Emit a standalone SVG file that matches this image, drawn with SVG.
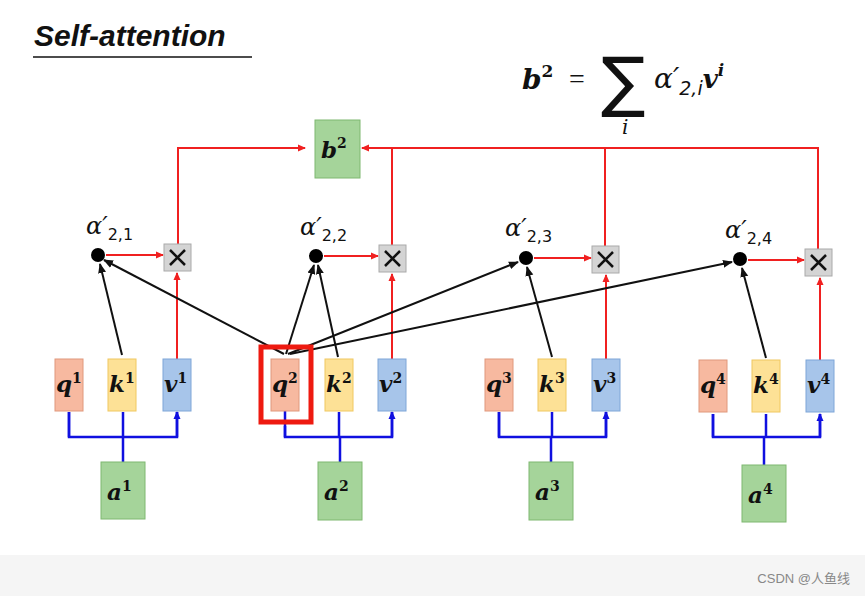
<svg xmlns="http://www.w3.org/2000/svg" width="865" height="596" viewBox="0 0 865 596">
<style>
.m{font-family:"DejaVu Serif","Liberation Serif",serif;font-weight:bold;font-style:italic;font-size:23px;fill:#111}
.s{font-family:"DejaVu Serif","Liberation Serif",serif;font-weight:bold;font-style:normal;font-size:14px;fill:#111}
.al{font-family:"DejaVu Serif","Liberation Serif",serif;font-style:italic;font-size:24px;fill:#111}
.sub{font-family:"DejaVu Sans","Liberation Sans",sans-serif;font-style:normal;font-size:16px;fill:#111}
.q{fill:#f7b9a0;stroke:#e0987c}
.k{fill:#fde196;stroke:#f0c860}
.v{fill:#a7c5ea;stroke:#7ea6d8}
.g{fill:#a5d49a;stroke:#7fb871}
.x{fill:#d4d4d4;stroke:#aaa}
.r{stroke:#f02020;stroke-width:2;fill:none}
.b{stroke:#1010e0;stroke-width:2.5;fill:none}
.k2{stroke:#111;stroke-width:2;fill:none}
</style>
<defs>
<marker id="ar" markerWidth="8" markerHeight="8" refX="7" refY="4" orient="auto" markerUnits="userSpaceOnUse"><path d="M0,0.5L8,4L0,7.5z" fill="#f02020"/></marker>
<marker id="ab" markerWidth="8" markerHeight="8" refX="7" refY="4" orient="auto" markerUnits="userSpaceOnUse"><path d="M0,0.5L8,4L0,7.5z" fill="#1010e0"/></marker>
<marker id="ak" markerWidth="10" markerHeight="10" refX="9" refY="5" orient="auto" markerUnits="userSpaceOnUse"><path d="M0,1L10,5L0,9z" fill="#111"/></marker>
</defs>
<rect width="865" height="596" fill="#fff"/>
<rect y="555" width="865" height="41" fill="#f5f5f5"/>
<text x="34" y="46" font-family="Liberation Sans,sans-serif" font-weight="bold" font-style="italic" font-size="30" fill="#111">Self-attention</text>
<line x1="33" y1="57" x2="252" y2="57" stroke="#111" stroke-width="1.5"/>
<g id="formula">
<text x="522" y="89" class="m" style="font-size:28px">b<tspan class="s" style="font-size:17px" dy="-12">2</tspan></text>
<text x="569" y="88" font-family="Liberation Serif,serif" font-size="28" fill="#111">=</text>
<text x="601" y="104" font-family="DejaVu Sans,sans-serif" font-size="66" fill="#111">∑</text>
<text x="622" y="134" class="al" style="font-size:20px">i</text>
<text x="654" y="88" class="al" style="font-size:28px">α′<tspan class="sub" style="font-size:19px;font-style:italic" dy="7">2,i</tspan><tspan class="m" style="font-size:26px" dy="-7">v</tspan><tspan class="s" style="font-size:17px;font-style:italic" dy="-12">i</tspan></text>
</g>
<g id="connectors">
<path class="r" d="M178,244V148H305" marker-end="url(#ar)"/>
<path class="r" d="M392,245V148M605,246V148M818,249V148H362" marker-end="url(#ar)"/>
<path class="r" d="M177,359V273" marker-end="url(#ar)"/>
<path class="r" d="M392,359V274" marker-end="url(#ar)"/>
<path class="r" d="M606,359V275" marker-end="url(#ar)"/>
<path class="r" d="M820,360V278" marker-end="url(#ar)"/>
<path class="r" d="M106,255H163" marker-end="url(#ar)"/>
<path class="r" d="M324,256H378" marker-end="url(#ar)"/>
<path class="r" d="M534,258H591" marker-end="url(#ar)"/>
<path class="r" d="M748,260H804" marker-end="url(#ar)"/>
<path class="k2" d="M122,355L100,264" marker-end="url(#ak)"/>
<path class="k2" d="M284,354L104,260" marker-end="url(#ak)"/>
<path class="k2" d="M286,354L314,265" marker-end="url(#ak)"/>
<path class="k2" d="M338,357L318,265" marker-end="url(#ak)"/>
<path class="k2" d="M288,354L518,262" marker-end="url(#ak)"/>
<path class="k2" d="M552,357L527,267" marker-end="url(#ak)"/>
<path class="k2" d="M290,354L732,262" marker-end="url(#ak)"/>
<path class="k2" d="M766,358L742,268" marker-end="url(#ak)"/>
<path class="b" d="M123,470V437H69V412M123,437H177V412M340,462V437H285V426M340,437H392V412M551,462V437H499V412M551,437H606V412M764,465V437H713V414M764,437H820V414"/>
<path class="b" d="M69,437V412M123,437V412M177,437V412" marker-end="url(#ab)"/>
<path class="b" d="M285,437V411M339,437V412M392,437V412" marker-end="url(#ab)"/>
<path class="b" d="M499,437V412M552,437V412M606,437V412" marker-end="url(#ab)"/>
<path class="b" d="M713,437V414M766,437V414M820,437V414" marker-end="url(#ab)"/>
</g>
<g id="b2"><rect x="315" y="120" width="45" height="58" class="g"/><text x="321" y="158" class="m">b<tspan class="s" dy="-10">2</tspan></text></g>
<g id="alpha1"><circle cx="98" cy="255" r="7" fill="#000"/><text x="86" y="234" class="al">α′<tspan class="sub" dy="6">2,1</tspan></text></g>
<g id="alpha2"><circle cx="316" cy="256" r="7" fill="#000"/><text x="300" y="235" class="al">α′<tspan class="sub" dy="6">2,2</tspan></text></g>
<g id="alpha3"><circle cx="526" cy="258" r="7" fill="#000"/><text x="505" y="236" class="al">α′<tspan class="sub" dy="6">2,3</tspan></text></g>
<g id="alpha4"><circle cx="740" cy="259" r="7" fill="#000"/><text x="725" y="238" class="al">α′<tspan class="sub" dy="6">2,4</tspan></text></g>
<g id="mul1"><rect x="164" y="244" width="27" height="27" class="x"/><path d="M170,250l15,15M185,250l-15,15" stroke="#111" stroke-width="2.5"/></g>
<g id="mul2"><rect x="379" y="245" width="27" height="27" class="x"/><path d="M385,251l15,15M400,251l-15,15" stroke="#111" stroke-width="2.5"/></g>
<g id="mul3"><rect x="592" y="246" width="27" height="27" class="x"/><path d="M598,252l15,15M613,252l-15,15" stroke="#111" stroke-width="2.5"/></g>
<g id="mul4"><rect x="805" y="249" width="27" height="27" class="x"/><path d="M811,255l15,15M826,255l-15,15" stroke="#111" stroke-width="2.5"/></g>
<g id="q1"><rect x="55" y="359" width="28" height="52" class="q"/><text x="56" y="392" class="m">q<tspan class="s" dy="-9">1</tspan></text></g>
<g id="k1"><rect x="108" y="359" width="28" height="52" class="k"/><text x="109" y="392" class="m">k<tspan class="s" dy="-9">1</tspan></text></g>
<g id="v1"><rect x="163" y="359" width="28" height="52" class="v"/><text x="164" y="392" class="m">v<tspan class="s" dy="-9">1</tspan></text></g>
<g id="q2"><rect x="271" y="359" width="28" height="52" class="q"/><rect x="261" y="347" width="50" height="75" fill="none" stroke="#ee1a10" stroke-width="5"/><text x="272" y="392" class="m">q<tspan class="s" dy="-9">2</tspan></text></g>
<g id="k2"><rect x="325" y="359" width="28" height="52" class="k"/><text x="326" y="392" class="m">k<tspan class="s" dy="-9">2</tspan></text></g>
<g id="v2"><rect x="378" y="359" width="28" height="52" class="v"/><text x="379" y="392" class="m">v<tspan class="s" dy="-9">2</tspan></text></g>
<g id="q3"><rect x="485" y="359" width="28" height="52" class="q"/><text x="486" y="392" class="m">q<tspan class="s" dy="-9">3</tspan></text></g>
<g id="k3"><rect x="538" y="359" width="28" height="52" class="k"/><text x="539" y="392" class="m">k<tspan class="s" dy="-9">3</tspan></text></g>
<g id="v3"><rect x="592" y="359" width="28" height="52" class="v"/><text x="593" y="392" class="m">v<tspan class="s" dy="-9">3</tspan></text></g>
<g id="q4"><rect x="699" y="360" width="28" height="52" class="q"/><text x="700" y="393" class="m">q<tspan class="s" dy="-9">4</tspan></text></g>
<g id="k4"><rect x="752" y="360" width="28" height="52" class="k"/><text x="753" y="393" class="m">k<tspan class="s" dy="-9">4</tspan></text></g>
<g id="v4"><rect x="806" y="360" width="28" height="52" class="v"/><text x="807" y="393" class="m">v<tspan class="s" dy="-9">4</tspan></text></g>
<g id="a1"><rect x="101" y="462" width="44" height="57" class="g"/><text x="107" y="500" class="m">a<tspan class="s" dy="-9">1</tspan></text></g>
<g id="a2"><rect x="318" y="462" width="44" height="58" class="g"/><text x="324" y="500" class="m">a<tspan class="s" dy="-9">2</tspan></text></g>
<g id="a3"><rect x="529" y="462" width="44" height="58" class="g"/><text x="535" y="500" class="m">a<tspan class="s" dy="-9">3</tspan></text></g>
<g id="a4"><rect x="742" y="465" width="44" height="57" class="g"/><text x="748" y="503" class="m">a<tspan class="s" dy="-9">4</tspan></text></g>
<text x="850" y="583" text-anchor="end" font-family="Liberation Sans,'Noto Sans CJK SC',sans-serif" font-size="13" fill="#888">CSDN @人鱼线</text>
</svg>
